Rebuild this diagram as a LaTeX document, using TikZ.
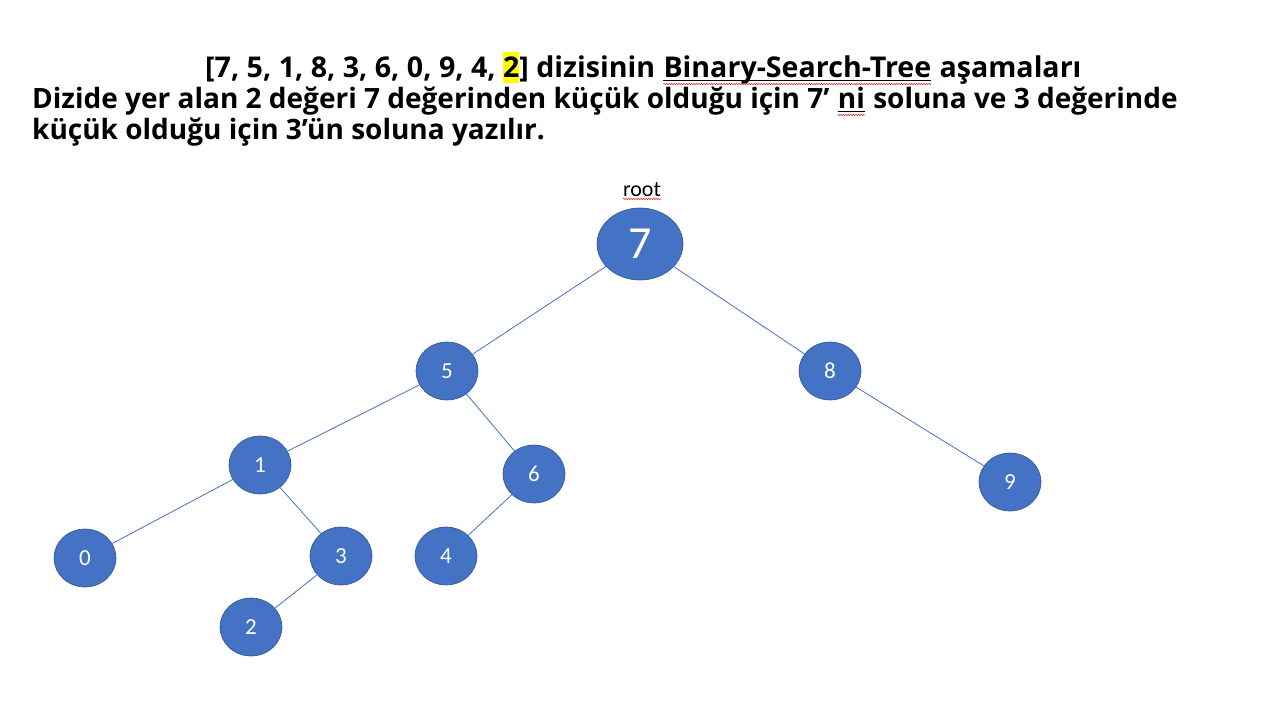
\documentclass[tikz,border=0pt]{standalone}
\usepackage{fontspec}
\setmainfont{Open Sans}
\newfontfamily\nodefont{Carlito}
\usetikzlibrary{shapes.geometric,decorations.pathmorphing}
\definecolor{nodefill}{HTML}{4472C4}
\definecolor{nodeborder}{HTML}{2F528F}
\definecolor{hl}{HTML}{FFFF00}
\definecolor{spell}{HTML}{E0202A}
\begin{document}
\begin{tikzpicture}[x=1pt,y=-1pt,
  bst/.style={ellipse,fill=nodefill,draw=nodeborder,line width=0.6pt,inner sep=0pt,
    minimum width=62pt,minimum height=58pt,text=white,font=\nodefont\fontsize{23}{23}\selectfont},
  edge/.style={draw=nodefill,line width=0.8pt},
  titletext/.style={inner sep=0pt,font=\bfseries\fontsize{28}{30}\selectfont},
  titleone/.style={inner sep=0pt,font=\bfseries\fontsize{28.6}{30}\selectfont},
  uline/.style={draw=black,line width=1.2pt},
  squiggle/.style={draw=spell,line width=0.5pt,decorate,decoration={snake,amplitude=0.7pt,segment length=2.5pt}},
  ]
\useasboundingbox (0,0) rectangle (1263,707);
\fill[white] (0,0) rectangle (1263,707);
% title line 1
\node[titleone,anchor=base west] (t1a) at (205,77) {[7, 5, 1, 8, 3, 6, 0, 9, 4, {\fboxsep=0pt\colorbox{hl}{\rule[-6pt]{0pt}{31pt}2}}] dizisinin};
\node[titleone,anchor=base west,xshift=8pt] (t1b) at (t1a.base east) {Binary-Search-Tree};
\node[titleone,anchor=base west,xshift=8pt] (t1c) at (t1b.base east) {aşamaları};
\draw[uline] ([yshift=-3.5pt]t1b.base west) -- ([yshift=-3.5pt]t1b.base east);
\draw[squiggle] ([yshift=-7pt]t1b.base west) -- ([yshift=-7pt]t1b.base east);
% title line 2
\node[titletext,anchor=base west] (t2a) at (32,108) {Dizide yer alan 2 değeri 7 değerinden küçük olduğu için 7’};
\node[titletext,anchor=base west,xshift=8pt] (t2b) at (t2a.base east) {ni};
\node[titletext,anchor=base west,xshift=8pt] (t2c) at (t2b.base east) {soluna ve 3 değerinde};
\draw[uline] ([yshift=-3.5pt]t2b.base west) -- ([yshift=-3.5pt]t2b.base east);
\draw[squiggle] ([yshift=-7pt]t2b.base west) -- ([yshift=-7pt]t2b.base east);
% title line 3
\node[titletext,anchor=base west] (t3) at (32,139) {küçük olduğu için 3’ün soluna yazılır.};
% root label
\node[inner sep=0pt,anchor=base,font=\nodefont\fontsize{22}{22}\selectfont] (root) at (642,196) {root};
\draw[squiggle] ([yshift=-3pt]root.base west) -- ([yshift=-3pt]root.base east);
% nodes
\node[bst,minimum width=86pt,minimum height=72pt,font=\nodefont\fontsize{46}{46}\selectfont] (n7) at (640,244) {7};
\node[bst] (n5) at (447,371) {5};
\node[bst] (n8) at (830,371) {8};
\node[bst] (n1) at (260,465) {1};
\node[bst] (n6) at (534,474) {6};
\node[bst] (n9) at (1010,482) {9};
\node[bst] (n0) at (85,558) {0};
\node[bst] (n3) at (341,556) {3};
\node[bst] (n4) at (446,556) {4};
\node[bst] (n2) at (251,627) {2};
% edges
\draw[edge] (n7) -- (n5);
\draw[edge] (n7) -- (n8);
\draw[edge] (n5) -- (n1);
\draw[edge] (n5) -- (n6);
\draw[edge] (n8) -- (n9);
\draw[edge] (n1) -- (n0);
\draw[edge] (n1) -- (n3);
\draw[edge] (n6) -- (n4);
\draw[edge] (n3) -- (n2);
\end{tikzpicture}
\end{document}
